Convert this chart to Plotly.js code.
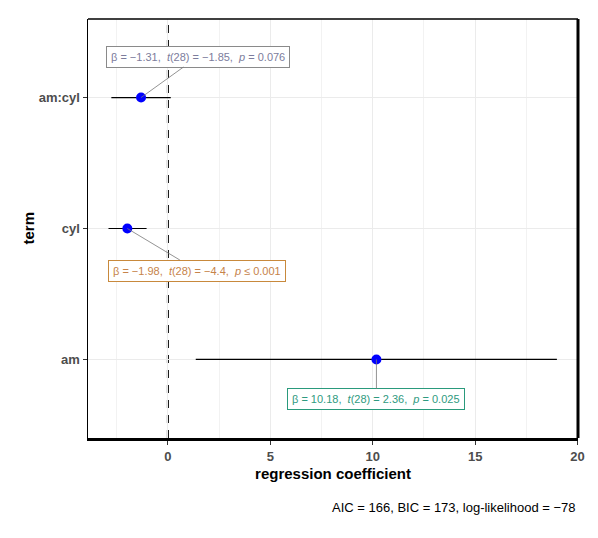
<!DOCTYPE html>
<html>
<head>
<meta charset="utf-8">
<script src="https://cdn.plot.ly/plotly-3.0.1.min.js"></script>
<style>html,body{margin:0;padding:0;background:#fff;}#plot{width:598px;height:538px;}</style>
</head>
<body>
<div id="plot"></div>
<script>
// Data
var terms = ['am', 'cyl', 'am:cyl'];
var estimates = [10.18, -1.98, -1.31];
var ciLow = [1.36, -2.90, -2.76];
var ciHigh = [18.99, -1.04, 0.14];
var tValues = ['2.36', '−4.4', '−1.85'];
var betaLabels = ['10.18', '−1.98', '−1.31'];
var pLabels = ['<i>p</i> = 0.025', '<i>p</i> ≤ 0.001', '<i>p</i> = 0.076'];
var dfResid = 28;
var captionText = 'AIC = 166, BIC = 173, log-likelihood = −78';
var xTicks = [0, 5, 10, 15, 20];

// label styles (per term)
var labelTextColors = ['#2f9a80', '#c6834a', '#7c7c9c'];
var labelBorderColors = ['#2a9a7c', '#c8893c', '#8a8a8a'];
var labelOffsets = [[0, 40], [70, 42], [57, -41]];

var errPlus = estimates.map(function (e, i) { return ciHigh[i] - e; });
var errMinus = estimates.map(function (e, i) { return e - ciLow[i]; });

var FONT = 'Liberation Sans, Arial, sans-serif';

var trace = {
  type: 'scatter',
  mode: 'markers',
  x: estimates,
  y: terms,
  marker: { color: '#0000ff', size: 10 },
  error_x: { type: 'data', symmetric: false, array: errPlus, arrayminus: errMinus, color: '#000', thickness: 1.2, width: 0 },
  hoverinfo: 'skip',
  showlegend: false
};

var annotations = terms.map(function (t, i) {
  return {
    x: estimates[i], y: t, xref: 'x', yref: 'y',
    text: 'β = ' + betaLabels[i] + ',  <i>t</i>(' + dfResid + ') = ' + tValues[i] + ',  ' + pLabels[i],
    showarrow: true, arrowhead: 0, arrowwidth: 0.8, arrowcolor: '#777',
    ax: labelOffsets[i][0], ay: labelOffsets[i][1],
    bgcolor: '#ffffff', bordercolor: labelBorderColors[i], borderwidth: 1, borderpad: 4,
    font: { family: FONT, size: 11, color: labelTextColors[i] }
  };
});

annotations.push({
  xref: 'paper', yref: 'paper', x: 1, y: -0.167, xanchor: 'right', yanchor: 'middle',
  text: captionText, showarrow: false,
  font: { family: FONT, size: 13, color: '#000' }
});

annotations.push({
  xref: 'paper', yref: 'paper', x: -0.1224, y: 0.5, xanchor: 'center', yanchor: 'middle',
  text: '<b>term</b>', textangle: -90, showarrow: false,
  font: { family: FONT, size: 15, color: '#000' }
});

var layout = {
  width: 598, height: 538,
  margin: { l: 88, r: 20, t: 19, b: 100 },
  paper_bgcolor: '#fff', plot_bgcolor: '#fff',
  font: { family: FONT },
  xaxis: {
    range: [-3.9, 20.02],
    tickvals: xTicks,
    ticktext: xTicks.map(String),
    ticks: 'outside', ticklen: 4, tickcolor: '#333', tickwidth: 1,
    tickfont: { size: 13, color: '#4d4d4d', family: FONT, weight: 'bold' },
    showgrid: true, gridcolor: '#ebebeb', gridwidth: 1,
    minor: { showgrid: true, gridcolor: '#f2f2f2', gridwidth: 1, tickvals: [-2.5, 2.5, 7.5, 12.5, 17.5] },
    zeroline: false,
    showline: true, linecolor: '#000', linewidth: 3,
    title: { text: 'regression coefficient', standoff: 6, font: { size: 15, color: '#000', weight: 'bold' } },
    automargin: false
  },
  yaxis: {
    type: 'category',
    categoryorder: 'array', categoryarray: terms,
    range: [-0.6, 2.6],
    ticks: 'outside', ticklen: 4, tickcolor: '#333', tickwidth: 1,
    tickfont: { size: 13, color: '#4d4d4d', family: FONT, weight: 'bold' },
    showgrid: true, gridcolor: '#ebebeb', gridwidth: 1,
    zeroline: false,
    showline: true, linecolor: '#000', linewidth: 1.5,
    automargin: false
  },
  shapes: [
    { type: 'line', xref: 'x', yref: 'paper', x0: 0, x1: 0, y0: 0, y1: 1, line: { color: '#000', width: 2, dash: '8px,7px' }, layer: 'below' },
    { type: 'line', xref: 'paper', yref: 'paper', x0: 0, x1: 1, y0: 1, y1: 1, line: { color: '#000', width: 1.5 } },
    { type: 'line', xref: 'paper', yref: 'paper', x0: 1, x1: 1, y0: 0, y1: 1, line: { color: '#000', width: 3 } }
  ],
  annotations: annotations,
  showlegend: false
};

Plotly.newPlot('plot', [trace], layout, { displayModeBar: false, staticPlot: true });
</script>
</body>
</html>
